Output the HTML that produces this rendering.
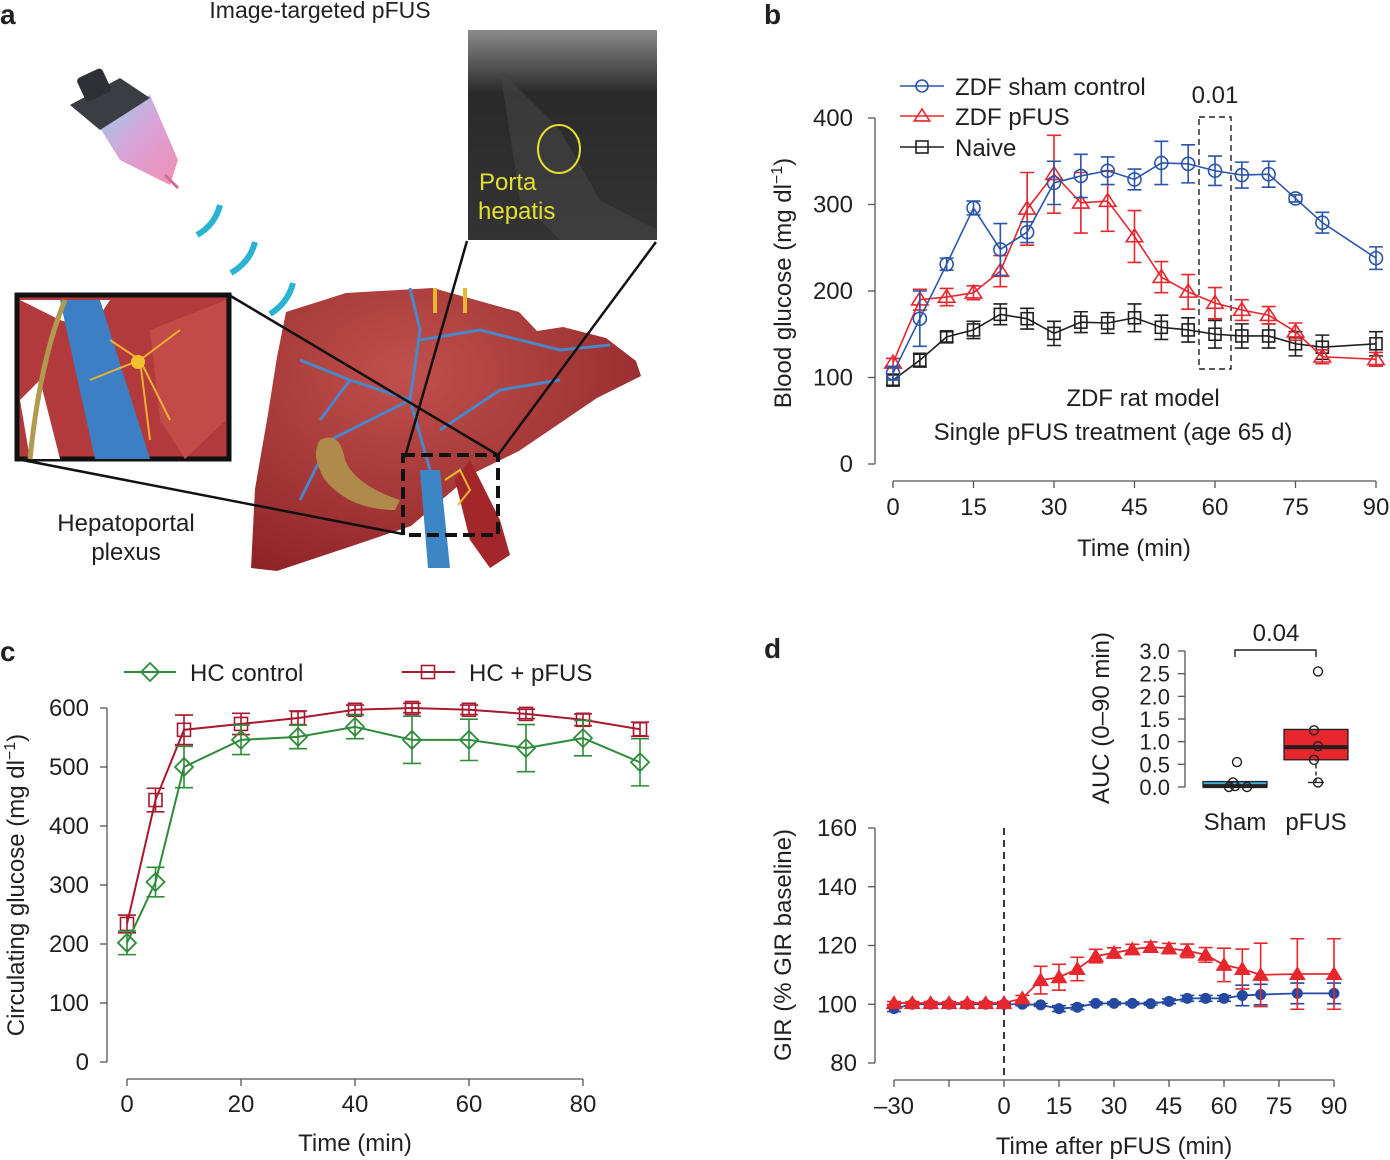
<!DOCTYPE html>
<html><head><meta charset="utf-8">
<style>
html,body{margin:0;padding:0;background:#fff;}
svg{display:block;font-family:"Liberation Sans",Arial,sans-serif;}
</style></head>
<body>
<svg id="fig" width="1390" height="1160" viewBox="0 0 1390 1160" xmlns="http://www.w3.org/2000/svg">
<defs>
<linearGradient id="usg" x1="0" y1="0" x2="0" y2="1"><stop offset="0" stop-color="#8a8a8a"/><stop offset="0.15" stop-color="#5a5a5a"/><stop offset="0.3" stop-color="#2a2a2a"/><stop offset="1" stop-color="#333"/></linearGradient>
<linearGradient id="cone" x1="0" y1="0" x2="1" y2="1"><stop offset="0" stop-color="#8fd3ee"/><stop offset="0.5" stop-color="#d9a3d9"/><stop offset="1" stop-color="#f08fb0"/></linearGradient>
<radialGradient id="liv" cx="0.4" cy="0.3" r="0.8"><stop offset="0" stop-color="#c0504c"/><stop offset="1" stop-color="#8e2327"/></radialGradient>
</defs>

<g>
<text x="0" y="24" font-size="28" font-weight="bold" fill="#231f20">a</text>
<text x="320" y="18" font-size="23" text-anchor="middle" fill="#231f20">Image-targeted pFUS</text>
<g>
<polygon points="95,120 150,95 178,160 170,185 120,160" fill="url(#cone)"/>
<polygon points="70,105 120,78 150,98 100,130" fill="#3a3d42"/>
<rect x="80" y="72" width="28" height="26" rx="4" fill="#2e3035" transform="rotate(-25 94 85)"/>
<line x1="165" y1="175" x2="178" y2="188" stroke="#d56a9a" stroke-width="3"/>
</g>
<g fill="none" stroke="#2bb3d3" stroke-width="6">
<path d="M197,235 Q215,225 220,205"/>
<path d="M231,273 Q250,262 255,242"/>
<path d="M270,314 Q288,303 293,283"/>
<path d="M307,353 Q325,342 330,322"/>
<path d="M344,397 Q362,386 367,366"/>
<path d="M381,436 Q399,425 404,405"/>
<path d="M418,483 Q436,472 441,452"/>
</g>
<path d="M286,312 L346,293 L433,288 L519,312 L537,331 L563,327 L606,338 L636,361 L641,376 L597,398 L519,451 L472,474 L411,526 L355,545 L277,571 L251,568 L255,489 L268,414 L277,357 Z" fill="url(#liv)"/>
<path d="M470,460 L500,520 L510,555 L490,568 L470,540 L455,480 Z" fill="#a3262b"/>
<path d="M420,470 L440,470 L450,568 L428,568 Z" fill="#3d86c6"/>
<g fill="none" stroke="#4a86c8" stroke-width="3">
<path d="M430,470 L410,400 L420,330 L410,288"/>
<path d="M410,400 L350,380 L300,360"/>
<path d="M420,340 L480,330 L560,350 L610,345"/>
<path d="M410,400 L330,440 L300,500"/>
<path d="M440,430 L500,390 L560,380"/>
<path d="M350,380 L320,420"/>
</g>
<rect x="433" y="288" width="4" height="25" fill="#e8b830"/><rect x="463" y="288" width="4" height="25" fill="#e8b830"/>
<path d="M320,440 Q340,430 345,460 Q355,485 400,500 L395,510 Q350,510 325,480 Q310,455 320,440 Z" fill="#b08a4a"/>
<path d="M445,480 L460,470 L470,490 L458,505" fill="none" stroke="#e8b830" stroke-width="2"/>
<g>
<rect x="468" y="30" width="189" height="210" fill="url(#usg)"/>
<path d="M500,70 L560,130 L600,200 L657,230 L657,240 L560,240 L520,200 Z" fill="#444" opacity="0.6"/>
<ellipse cx="559" cy="149" rx="21" ry="24" fill="none" stroke="#e3e030" stroke-width="2"/>
<text x="479" y="190" font-size="24" fill="#e3e030">Porta</text>
<text x="478" y="219" font-size="24" fill="#e3e030">hepatis</text>
</g>
<g>
<rect x="17" y="295" width="212" height="164" fill="#b23a3c" stroke="#111" stroke-width="5"/>
<path d="M20,300 L110,300 L90,330 L60,320 Z" fill="#fff"/>
<path d="M60,300 L100,300 L150,459 L95,459 Z" fill="#3d7fc4"/>
<path d="M150,330 L226,300 L226,420 L185,459 L160,420 Z" fill="#c24a47"/>
<path d="M20,400 L40,380 L60,459 L30,459 Z" fill="#fff"/>
<path d="M30,459 Q40,360 65,300" fill="none" stroke="#b09a50" stroke-width="5"/>
<g fill="none" stroke="#f0b030" stroke-width="2"><path d="M90,380 L140,360 L180,330"/><path d="M140,360 L170,420"/><path d="M140,360 L150,440"/><path d="M140,360 L110,340"/></g>
<circle cx="138" cy="362" r="7" fill="#f0c030"/>
</g>
<g stroke="#111" stroke-width="2.5" fill="none">
<line x1="229" y1="295" x2="498" y2="455"/>
<line x1="17" y1="459" x2="403" y2="534"/>
<line x1="467" y1="241" x2="405" y2="457"/>
<line x1="656" y1="242" x2="498" y2="455"/>
</g>
<rect x="403" y="455" width="95" height="80" fill="none" stroke="#111" stroke-width="4" stroke-dasharray="12,6"/>
<text x="126" y="531" font-size="24" text-anchor="middle" fill="#231f20">Hepatoportal</text>
<text x="126" y="560" font-size="24" text-anchor="middle" fill="#231f20">plexus</text>
</g>

<g id="pb"></g>
<g id="pc"></g>
<g id="pd"></g>
</svg>

<script>
// ---------- Panel b data ----------
const bTimes = [0,5,10,15,20,25,30,35,40,45,50,55,60,65,70,75,80,90];
const bSham = [105,168,231,296,248,268,325,333,339,329,348,347,339,334,335,307,279,238];
const bShamErr = [8,32,7,8,30,12,25,25,16,12,25,22,17,15,15,4,12,13];
const bPfus = [117,190,193,198,223,295,335,302,304,263,216,199,186,178,172,153,124,121];
const bPfusErr = [5,12,10,8,18,42,45,35,35,30,18,20,18,12,10,10,8,8];
const bNaive = [97,120,147,155,173,168,151,164,163,169,158,155,150,148,148,139,135,139];
const bNaiveErr = [6,8,6,10,12,12,14,12,12,16,14,14,16,14,14,14,14,14];
const bYTicks = [0,100,200,300,400];
const bXTicks = [0,15,30,45,60,75,90];

// ---------- Panel c data ----------
const cTimes = [0,5,10,20,30,40,50,60,70,80,90];
const cControl = [202,305,500,546,551,568,546,546,532,549,508];
const cControlErr = [20,25,35,25,20,20,40,35,40,30,40];
const cPfus = [234,444,563,573,583,597,600,597,590,580,564];
const cPfusErr = [15,20,25,18,12,8,8,8,8,10,12];
const cYTicks = [0,100,200,300,400,500,600];
const cXTicks = [0,20,40,60,80];

// ---------- Panel d data ----------
const dTimes = [-30,-25,-20,-15,-10,-5,0,5,10,15,20,25,30,35,40,45,50,55,60,65,70,80,90];
const dSham = [98.5,100,100,100,100,100,100,100,99.8,98.5,99,100.3,100.3,100.3,100.2,101,102,102,102,103,103.3,103.7,103.7];
const dShamErr = [1,0.5,0.5,0.5,0.5,0.5,0.5,0.5,0.5,1,0.8,0.5,0.5,0.5,0.5,0.8,1,1,1,3.5,3.5,3.5,3.5];
const dPfus = [100.4,100.4,100.4,100.4,100.4,100.4,100.4,102,108.2,109.2,112,116.4,117.5,118.7,119.5,119,118.2,116.8,113.4,112,110,110.3,110.3];
const dPfusErr = [0.5,0.5,0.5,0.5,0.5,0.5,0.5,1,4.7,4.4,4,2.3,1.7,1.7,1.7,1.7,2.3,2.5,5.7,6.8,10.8,12,12];
const dYTicks = [80,100,120,140,160];
const dXTicks = [-30,-15,0,15,30,45,60,75,90];
const dXLabels = ["\u201330","","0","15","30","45","60","75","90"];
const aucGroups = ["Sham","pFUS"];
const aucSham = [0.55,0.1,0.02,0,0];
const aucPfus = [2.55,1.25,0.9,0.6,0.1];
const aucBoxSham = [0,0,0.02,0.12,0.12];
const aucBoxPfus = [0.1,0.6,0.88,1.27,1.27];
const aucYTicks = [0,0.5,1.0,1.5,2.0,2.5,3.0];

const FS=24;
const NS="http://www.w3.org/2000/svg";
function mk(parent,tag,attrs,text){const e=document.createElementNS(NS,tag);for(const k in attrs)e.setAttribute(k,attrs[k]);if(text!==undefined)e.textContent=text;parent.appendChild(e);return e;}
function lin(d0,d1,r0,r1){return v=>r0+(v-d0)*(r1-r0)/(d1-d0);}

function marker(g,type,x,y,color,s){
  let e;
  if(type==='circle'){e=mk(g,'circle',{cx:x,cy:y,r:s,fill:'none',stroke:color,'stroke-width':1.6});}
  else if(type==='fcircle'){e=mk(g,'circle',{cx:x,cy:y,r:s,fill:color});}
  else if(type==='tri'){e=mk(g,'polygon',{points:`${x},${y-s} ${x-s*1.1},${y+s*0.7} ${x+s*1.1},${y+s*0.7}`,fill:'none',stroke:color,'stroke-width':1.6});}
  else if(type==='ftri'){e=mk(g,'polygon',{points:`${x},${y-s} ${x-s*1.05},${y+s*0.75} ${x+s*1.05},${y+s*0.75}`,fill:color});}
  else if(type==='sq'){e=mk(g,'rect',{x:x-s,y:y-s,width:2*s,height:2*s,fill:'none',stroke:color,'stroke-width':1.6});}
  else if(type==='dia'){e=mk(g,'polygon',{points:`${x},${y-s} ${x+s},${y} ${x},${y+s} ${x-s},${y}`,fill:'none',stroke:color,'stroke-width':1.8});}
  return e;
}

function series(g,name,xs,ys,errs,X,Y,color,type,ms,cap,lw){
  const sg=mk(g,'g',{});
  
  
  const pts=xs.map((t,i)=>X(t)+','+Y(ys[i])).join(' ');
  mk(sg,'polyline',{points:pts,fill:'none',stroke:color,'stroke-width':lw});
  xs.forEach((t,i)=>{
    const x=X(t),y0=Y(ys[i]-errs[i]),y1=Y(ys[i]+errs[i]);
    const eb=mk(sg,'path',{d:`M${x},${y0}V${y1}M${x-cap},${y0}H${x+cap}M${x-cap},${y1}H${x+cap}`,stroke:color,'stroke-width':1.6,fill:'none'});
    
    
    const m=marker(sg,type,x,Y(ys[i]),color,ms);
    
    
  });
}

const AX='#231f20', AXL='#555';
function yAxis(g,name,ticks,Y,x,labelX,fmt,fs){
  const ag=mk(g,'g',{});
  
  
  mk(ag,'line',{x1:x,y1:Y(ticks[0]),x2:x,y2:Y(ticks[ticks.length-1]),stroke:AXL,'stroke-width':1.3});
  ticks.forEach(t=>{
    mk(ag,'line',{x1:x-7,y1:Y(t),x2:x,y2:Y(t),stroke:AXL,'stroke-width':1.3});
    const tl=mk(ag,'text',{x:labelX,y:Y(t)+8,'font-size':fs||FS,'text-anchor':'end',fill:AX},fmt?fmt(t):String(t));
    
    
  });
}
function xAxis(g,name,ticks,labels,X,y,labelY){
  const ag=mk(g,'g',{});
  
  
  mk(ag,'line',{x1:X(ticks[0]),y1:y,x2:X(ticks[ticks.length-1]),y2:y,stroke:AXL,'stroke-width':1.3});
  ticks.forEach((t,i)=>{
    mk(ag,'line',{x1:X(t),y1:y,x2:X(t),y2:y+7,stroke:AXL,'stroke-width':1.3});
    const tl=mk(ag,'text',{x:X(t),y:labelY,'font-size':FS,'text-anchor':'middle',fill:AX},labels[i]);
    
    
  });
}
function txt(g,name,x,y,s,fs,anchor,rot,extra){
  const a={x:x,y:y,'font-size':fs,'text-anchor':anchor||'middle',fill:AX};
  if(rot)a.transform=`rotate(-90 ${x} ${y})`;
  if(extra)for(const k in extra)a[k]=extra[k];
  const t=mk(g,'text',a,s);
  
  
  return t;
}
const SUP='<tspan dy="-9" font-size="16">\u22121</tspan><tspan dy="9">)</tspan>';

// ===== Panel b =====
(function(){
  const g=document.getElementById('pb');
  const X=lin(0,90,893,1376), Y=lin(0,400,464,118);
  txt(g,'panel-b-label',764,24,'b',28,'start',false,{'font-weight':'bold'});
  yAxis(g,'b-y-axis',bYTicks,Y,875,853);
  xAxis(g,'b-x-axis',bXTicks,bXTicks.map(String),X,481,515);
  txt(g,'b-y-axis-title',791,283,'',FS,'middle',true).innerHTML='Blood glucose (mg dl'+SUP;
  txt(g,'b-x-axis-title',1134,556,'Time (min)',FS);
  txt(g,'b-annotation-model',1143,406,'ZDF rat model',FS);
  txt(g,'b-annotation-treatment',1113,440,'Single pFUS treatment (age 65 d)',FS);
  const r=mk(g,'rect',{x:1199,y:117,width:32,height:252,fill:'none',stroke:'#231f20','stroke-width':1.4,'stroke-dasharray':'6,4'});
  
  
  txt(g,'b-p-value',1215,103,'0.01',FS);
  series(g,'naive',bTimes,bNaive,bNaiveErr,X,Y,'#231f20','sq',6,7,1.6);
  series(g,'zdf-pfus',bTimes,bPfus,bPfusErr,X,Y,'#e8262e','tri',7.5,7,1.6);
  series(g,'zdf-sham',bTimes,bSham,bShamErr,X,Y,'#2b55a8','circle',6.5,7,1.6);
  const leg=[['ZDF sham control','#2b55a8','circle',6,86],['ZDF pFUS','#e8262e','tri',7,116],['Naive','#231f20','sq',6,147]];
  leg.forEach(l=>{
    const lg=mk(g,'g',{});
    
    
    mk(lg,'line',{x1:900,y1:l[4],x2:944,y2:l[4],stroke:l[1],'stroke-width':1.6});
    marker(lg,l[2],922,l[4],l[1],l[3]);
    mk(lg,'text',{x:955,y:l[4]+9,'font-size':FS,fill:AX},l[0]);
  });
})();

// ===== Panel c =====
(function(){
  const g=document.getElementById('pc');
  const X=lin(0,80,127,583), Y=lin(0,600,1062,708);
  txt(g,'panel-c-label',0,661,'c',28,'start',false,{'font-weight':'bold'});
  yAxis(g,'c-y-axis',cYTicks,Y,107,89);
  xAxis(g,'c-x-axis',cXTicks,cXTicks.map(String),X,1079,1112);
  txt(g,'c-y-axis-title',24,885,'',FS,'middle',true).innerHTML='Circulating glucose (mg dl'+SUP;
  txt(g,'c-x-axis-title',355,1151,'Time (min)',FS);
  series(g,'hc-pfus',cTimes,cPfus,cPfusErr,X,Y,'#a8182f','sq',6.5,9,2);
  series(g,'hc-control',cTimes,cControl,cControlErr,X,Y,'#2e8b3a','dia',9,9,2);
  const leg=[['HC control','#2e8b3a','dia',9,124,176,150,190],['HC + pFUS','#a8182f','sq',6.5,402,455,428,469]];
  leg.forEach(l=>{
    const lg=mk(g,'g',{});
    
    
    mk(lg,'line',{x1:l[4],y1:672,x2:l[5],y2:672,stroke:l[1],'stroke-width':2});
    marker(lg,l[2],l[6],672,l[1],l[3]);
    mk(lg,'text',{x:l[7],y:681,'font-size':FS,fill:AX},l[0]);
  });
})();

// ===== Panel d =====
(function(){
  const g=document.getElementById('pd');
  const X=lin(0,90,1004,1334), Y=lin(80,160,1063,828);
  txt(g,'panel-d-label',764,658,'d',28,'start',false,{'font-weight':'bold'});
  yAxis(g,'d-y-axis',dYTicks,Y,875,857);
  xAxis(g,'d-x-axis',dXTicks,dXLabels,X,1080,1114);
  txt(g,'d-y-axis-title',791,945,'GIR (% GIR baseline)',FS,'middle',true);
  txt(g,'d-x-axis-title',1114,1154,'Time after pFUS (min)',FS);
  const vl=mk(g,'line',{x1:1004,y1:828,x2:1004,y2:1080,stroke:'#231f20','stroke-width':1.8,'stroke-dasharray':'7,5'});
  
  
  series(g,'gir-sham',dTimes,dSham,dShamErr,X,Y,'#2349a0','fcircle',5.5,7,1.8);
  series(g,'gir-pfus',dTimes,dPfus,dPfusErr,X,Y,'#e8262e','ftri',8,7,1.8);

  const ig=mk(g,'g',{});
  
  
  const IY=lin(0,3,787,651);
  const GX={Sham:1235,pFUS:1316};
  yAxis(ig,'auc-y-axis',aucYTicks,IY,1185,1170,t=>t.toFixed(1),22);
  txt(ig,'auc-y-axis-title',1109,718,'AUC (0\u201390 min)',FS,'middle',true);
  const boxes=[[aucGroups[0],aucBoxSham,'#3db1e0',aucSham],[aucGroups[1],aucBoxPfus,'#e8262e',aucPfus]];
  boxes.forEach(b=>{
    const cx=GX[b[0]], bx=b[1];
    const bg=mk(ig,'g',{});
    
    
    mk(bg,'line',{x1:cx,y1:IY(bx[0]),x2:cx,y2:IY(bx[4]),stroke:'#231f20','stroke-width':1.4,'stroke-dasharray':'4,3'});
    mk(bg,'line',{x1:cx-8,y1:IY(bx[0]),x2:cx+8,y2:IY(bx[0]),stroke:'#231f20','stroke-width':1.4});
    mk(bg,'rect',{x:cx-32,y:IY(bx[3]),width:64,height:Math.max(2,IY(bx[1])-IY(bx[3])),fill:b[2],stroke:'#231f20','stroke-width':1.3});
    mk(bg,'line',{x1:cx-32,y1:IY(bx[2]),x2:cx+32,y2:IY(bx[2]),stroke:'#231f20','stroke-width':4});
    b[3].forEach((v,i)=>{
      const p=mk(bg,'circle',{cx:cx+(i%2?-4:4)*(v<0.05?(i):1)*0.5+(v<0.05?(i-3)*4:0),cy:IY(v),r:4.5,fill:'none',stroke:'#231f20','stroke-width':1.4});
      
      
    });
    txt(bg,'auc-x-label',cx,830,b[0],FS);
  });
  mk(ig,'path',{d:'M1235,657V650H1316V657',fill:'none',stroke:'#231f20','stroke-width':1.4});
  txt(ig,'auc-p-value',1276,641,'0.04',FS);
})();
</script>
</body></html>
